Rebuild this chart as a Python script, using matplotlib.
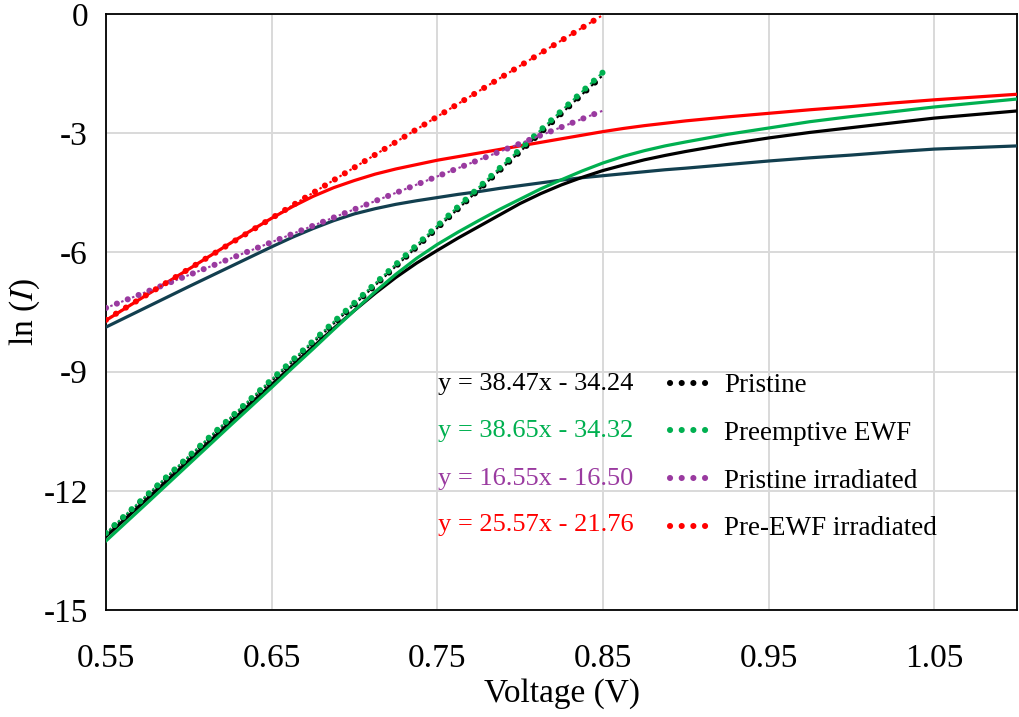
import numpy as np
import matplotlib
matplotlib.use('Agg')
import matplotlib.pyplot as plt

plt.rcParams['font.family'] = ['Liberation Serif', 'DejaVu Serif']
plt.rcParams['mathtext.fontset'] = 'stix'
plt.rcParams['axes.unicode_minus'] = False

# measured curves, ln(I) vs voltage
voltage = [0.55, 0.575, 0.60, 0.625, 0.6375, 0.65, 0.6625, 0.675, 0.6875, 0.70,
           0.7125, 0.725, 0.7375, 0.75, 0.7625, 0.775, 0.7875, 0.80, 0.8125, 0.825,
           0.8375, 0.85, 0.8625, 0.875, 0.8875, 0.90, 0.925, 0.95, 0.975, 1.00,
           1.025, 1.05, 1.075, 1.10]
pristine = [-13.15, -12.2, -11.24, -10.28, -9.8, -9.33, -8.85, -8.38, -7.91, -7.46,
            -7.03, -6.63, -6.27, -5.95, -5.64, -5.35, -5.06, -4.77, -4.52, -4.30,
            -4.11, -3.94, -3.80, -3.67, -3.56, -3.46, -3.28, -3.12, -2.98, -2.86,
            -2.74, -2.62, -2.53, -2.44]
preemptive = [-13.26, -12.3, -11.33, -10.36, -9.88, -9.4, -8.91, -8.43, -7.94, -7.46,
              -6.99, -6.55, -6.15, -5.80, -5.49, -5.2, -4.92, -4.66, -4.40, -4.17,
              -3.95, -3.75, -3.58, -3.44, -3.32, -3.22, -3.03, -2.87, -2.71, -2.58,
              -2.46, -2.34, -2.24, -2.14]
pristine_irr = [-7.88, -7.37, -6.86, -6.36, -6.11, -5.86, -5.62, -5.40, -5.20, -5.03,
                -4.90, -4.79, -4.70, -4.62, -4.54, -4.47, -4.39, -4.32, -4.25, -4.18,
                -4.12, -4.07, -4.02, -3.97, -3.92, -3.88, -3.79, -3.70, -3.62, -3.55,
                -3.47, -3.40, -3.36, -3.32]
pre_ewf_irr = [-7.71, -7.06, -6.42, -5.77, -5.45, -5.14, -4.85, -4.59, -4.37, -4.19,
               -4.03, -3.90, -3.79, -3.68, -3.59, -3.50, -3.41, -3.32, -3.23, -3.14,
               -3.05, -2.96, -2.88, -2.81, -2.75, -2.69, -2.59, -2.50, -2.41, -2.33,
               -2.24, -2.16, -2.09, -2.02]

# linear fits (slope, intercept) over the fit range
fit_range = [0.55, 0.85]
fit_names = ['Pristine', 'Preemptive EWF', 'Pristine irradiated', 'Pre-EWF irradiated']
fit_slopes = [38.47, 38.65, 16.55, 25.57]
fit_intercepts = [-34.24, -34.32, -16.50, -21.76]

c_black = 'black'
c_green = '#00b050'
c_teal = '#123f4f'
c_red = '#ff0000'
c_purple = '#9a3aa0'
fit_colors = [c_black, c_green, c_purple, c_red]

fig = plt.figure(figsize=(10.19, 7.17), dpi=100)
ax = fig.add_axes([106/1019, 1 - 610/717, 911/1019, 596/717])

# solid measured curves
ax.plot(voltage, pristine_irr, color=c_teal, lw=2.3, zorder=3)
ax.plot(voltage, pre_ewf_irr, color=c_red, lw=2.3, zorder=3)
ax.plot(voltage, pristine, color=c_black, lw=2.3, zorder=3)
ax.plot(voltage, preemptive, color=c_green, lw=2.3, zorder=3)

# trendlines: round dots with a short thin dash in between
xf = np.array(fit_range)
handles = []
for name, m, b, col in zip(fit_names, fit_slopes, fit_intercepts, fit_colors):
    yf = m * xf + b
    ax.plot(xf, yf, color=col, lw=1.5, linestyle=(3.41, (1.2, 4.42)), zorder=4)
    h, = ax.plot(xf, yf, color=col, lw=4.4, linestyle=(0, (0.01, 1.9)),
                 dash_capstyle='round', zorder=4, label=name)
    handles.append(h)

ax.set_xlim(0.55, 1.10)
ax.set_ylim(-15, 0)
ax.set_xticks([0.55, 0.65, 0.75, 0.85, 0.95, 1.05])
ax.set_yticks([-15, -12, -9, -6, -3, 0])
ax.set_xticklabels(['0.55', '0.65', '0.75', '0.85', '0.95', '1.05'])
ax.tick_params(axis='x', length=0, pad=24, labelsize=24)
ax.tick_params(axis='y', length=0, pad=13, labelsize=24)
ax.grid(True, color='#d9d9d9', lw=1.4, zorder=0)
ax.set_axisbelow(True)
for s in ax.spines.values():
    s.set_color('black')
    s.set_linewidth(1.3)

ax.set_xlabel('Voltage (V)', fontsize=24, labelpad=3)
ax.set_ylabel(r'ln ($\mathit{I}$)', fontsize=24)
ax.yaxis.set_label_coords(-0.07, 0.5)

leg = ax.legend(handles=handles, loc='upper left', bbox_to_anchor=(670/1019, 1 - 373/717),
                bbox_transform=fig.transFigure, frameon=False, fontsize=19.5,
                handlelength=1.4, handletextpad=0.6, labelspacing=0.84,
                borderpad=0, borderaxespad=0)

# equation labels next to the legend
row_y = [384, 431, 479, 525]
for m, b, col, ry in zip(fit_slopes, fit_intercepts, fit_colors, row_y):
    ax.text(438/1019, 1 - ry/717, 'y = %.2fx - %.2f' % (m, -b), color=col,
            fontsize=19, ha='left', va='center', transform=fig.transFigure)

fig.savefig('out.png', dpi=100)
